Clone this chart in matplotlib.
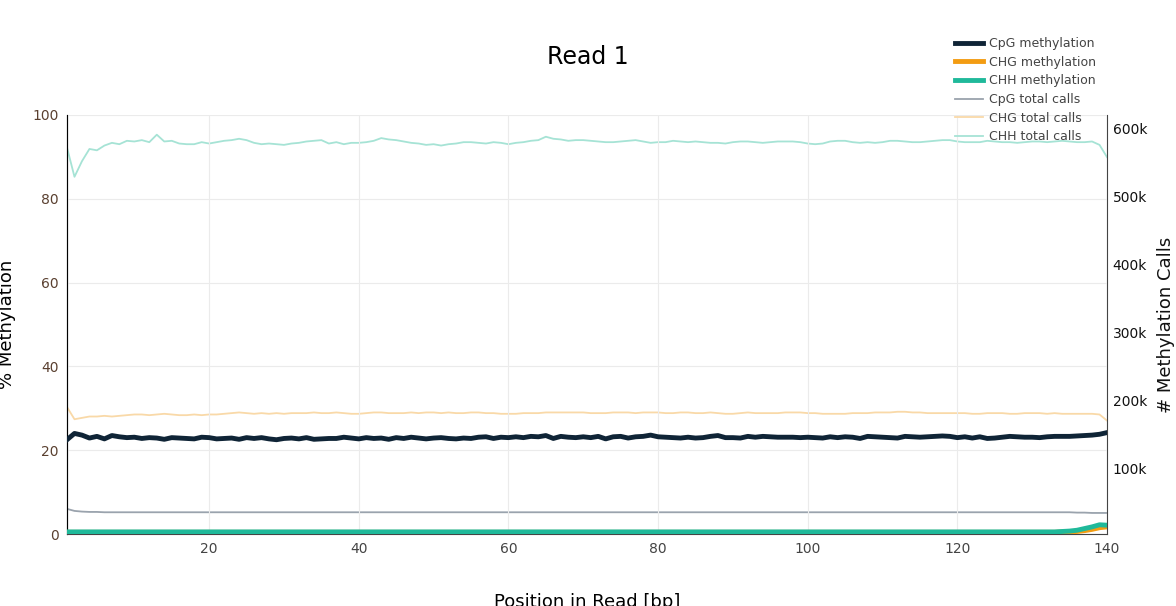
import matplotlib
matplotlib.use("Agg")
import matplotlib.pyplot as plt
import numpy as np

positions = list(range(1, 141))

cpg_meth = [
    22.5, 24.0, 23.6, 22.9, 23.3, 22.7, 23.5, 23.2, 23.0, 23.1,
    22.8, 23.0, 22.9, 22.6, 23.0, 22.9, 22.8, 22.7, 23.1, 23.0,
    22.7, 22.8, 22.9, 22.6, 23.0, 22.8, 23.0, 22.7, 22.5, 22.8,
    22.9, 22.7, 23.0, 22.6, 22.7, 22.8, 22.8, 23.1, 22.9, 22.7,
    23.0, 22.8, 22.9, 22.6, 23.0, 22.8, 23.1, 22.9, 22.7, 22.9,
    23.0, 22.8, 22.7, 22.9, 22.8, 23.1, 23.2, 22.8, 23.1, 23.0,
    23.2, 23.0, 23.3, 23.2, 23.5, 22.8, 23.3, 23.1, 23.0, 23.2,
    23.0, 23.3, 22.7, 23.2, 23.3, 22.9, 23.2, 23.3, 23.6, 23.2,
    23.1, 23.0, 22.9, 23.1, 22.9, 23.0, 23.3, 23.5, 23.0, 23.0,
    22.9, 23.3, 23.1, 23.3, 23.2, 23.1, 23.1, 23.1, 23.0, 23.1,
    23.0, 22.9, 23.2, 23.0, 23.2, 23.1, 22.8, 23.3, 23.2, 23.1,
    23.0, 22.9, 23.3, 23.2, 23.1, 23.2, 23.3, 23.4, 23.3, 23.0,
    23.2, 22.9, 23.2, 22.8, 22.9, 23.1, 23.3, 23.2, 23.1, 23.1,
    23.0, 23.2, 23.3, 23.3, 23.3, 23.4, 23.5, 23.6, 23.8, 24.2,
]

chg_meth = [0.4] * 130 + [0.4, 0.4, 0.4, 0.5, 0.5, 0.6, 0.8, 1.1, 1.5, 1.7]
chh_meth = [0.5] * 130 + [0.5, 0.5, 0.5, 0.6, 0.7, 0.9, 1.3, 1.7, 2.2, 2.1]

cpg_total = [40000, 37000, 36000, 35500, 35500] + [35000] * 130 + [34500, 34500, 34000, 34000, 34000]

chg_total = [
    190000, 172000, 174000, 176000, 176000, 177000, 176000, 177000, 178000, 179000,
    179000, 178000, 179000, 180000, 179000, 178000, 178000, 179000, 178000, 179000,
    179000, 180000, 181000, 182000, 181000, 180000, 181000, 180000, 181000, 180000,
    181000, 181000, 181000, 182000, 181000, 181000, 182000, 181000, 180000, 180000,
    181000, 182000, 182000, 181000, 181000, 181000, 182000, 181000, 182000, 182000,
    181000, 182000, 181000, 181000, 182000, 182000, 181000, 181000, 180000, 180000,
    180000, 181000, 181000, 181000, 182000, 182000, 182000, 182000, 182000, 182000,
    181000, 181000, 181000, 182000, 182000, 182000, 181000, 182000, 182000, 182000,
    181000, 181000, 182000, 182000, 181000, 181000, 182000, 181000, 180000, 180000,
    181000, 182000, 181000, 181000, 181000, 181000, 182000, 182000, 182000, 181000,
    181000, 180000, 180000, 180000, 180000, 181000, 181000, 181000, 182000, 182000,
    182000, 183000, 183000, 182000, 182000, 181000, 181000, 181000, 181000, 181000,
    181000, 180000, 180000, 181000, 181000, 181000, 180000, 180000, 181000, 181000,
    181000, 180000, 181000, 180000, 180000, 180000, 180000, 180000, 179000, 170000,
]

chh_total = [
    572000, 529000, 552000, 570000, 568000, 575000, 579000, 577000, 582000, 581000,
    583000, 580000, 591000, 581000, 582000, 578000, 577000, 577000, 580000, 578000,
    580000, 582000, 583000, 585000, 583000, 579000, 577000, 578000, 577000, 576000,
    578000, 579000, 581000, 582000, 583000, 578000, 580000, 577000, 579000, 579000,
    580000, 582000, 586000, 584000, 583000, 581000, 579000, 578000, 576000, 577000,
    575000, 577000, 578000, 580000, 580000, 579000, 578000, 580000, 579000, 577000,
    579000, 580000, 582000, 583000, 588000, 585000, 584000, 582000, 583000, 583000,
    582000, 581000, 580000, 580000, 581000, 582000, 583000, 581000, 579000, 580000,
    580000, 582000, 581000, 580000, 581000, 580000, 579000, 579000, 578000, 580000,
    581000, 581000, 580000, 579000, 580000, 581000, 581000, 581000, 580000, 578000,
    577000, 578000, 581000, 582000, 582000, 580000, 579000, 580000, 579000, 580000,
    582000, 582000, 581000, 580000, 580000, 581000, 582000, 583000, 583000, 581000,
    580000, 580000, 580000, 582000, 581000, 580000, 580000, 579000, 580000, 581000,
    581000, 580000, 581000, 582000, 581000, 580000, 580000, 581000, 576000, 558000,
]

fig = plt.figure(figsize=(11.76, 6.06), dpi=100)
ax = fig.add_axes([67 / 1176, 1 - 534 / 606, 1040 / 1176, 419 / 606])
ax2 = ax.twinx()

ax2.plot(positions, cpg_total, color="#9aa3ad", lw=1.3, label="CpG total calls")
ax2.plot(positions, chg_total, color="#f9d9a8", lw=1.3, label="CHG total calls")
ax2.plot(positions, chh_total, color="#a6e3d5", lw=1.3, label="CHH total calls")
ax.plot(positions, cpg_meth, color="#0f2436", lw=3.5, label="CpG methylation", zorder=5)
ax.plot(positions, chg_meth, color="#f39c12", lw=3.5, label="CHG methylation", zorder=5)
ax.plot(positions, chh_meth, color="#1fb99a", lw=3.5, label="CHH methylation", zorder=5)
ax.set_zorder(ax2.get_zorder() + 1)
ax.patch.set_visible(False)

ax.set_xlim(1, 140)
ax.set_ylim(0, 100)
ax2.set_ylim(3000, 620000)
ax.set_xticks([20, 40, 60, 80, 100, 120, 140])
ax.set_yticks([0, 20, 40, 60, 80, 100])
ax2.set_yticks([100000, 200000, 300000, 400000, 500000, 600000])
ax2.set_yticklabels(["100k", "200k", "300k", "400k", "500k", "600k"])
ax.grid(color="#ebebeb", lw=0.8)
for a in (ax, ax2):
    a.spines["top"].set_visible(False)
    a.tick_params(length=0, labelsize=10)
ax.spines["right"].set_visible(False)
ax2.spines["left"].set_color("#444")
ax2.spines["right"].set_color("#444")
ax2.spines["bottom"].set_visible(False)
ax.spines["bottom"].set_color("#444")
ax.tick_params(axis="y", labelcolor="#5a4030", pad=6)
ax.tick_params(axis="x", labelcolor="#444", pad=6)
ax2.tick_params(axis="y", labelcolor="#111", pad=4)

ax.set_xlabel("Position in Read [bp]", fontsize=13)
ax.xaxis.set_label_coords(0.5, -(593 - 534) / 419, transform=ax.transAxes)
ax.set_ylabel("% Methylation", fontsize=13)
ax.yaxis.set_label_coords(-(67 - 16) / 1040, 0.5, transform=ax.transAxes)
ax2.set_ylabel("# Methylation Calls", fontsize=13, color="#111")
ax2.yaxis.set_label_coords(1 + (1157 - 1107) / 1040, 0.5, transform=ax.transAxes)
fig.text(588 / 1176, 1 - 57 / 606, "Read 1", fontsize=17, ha="center", va="center")

h1, l1 = ax.get_legend_handles_labels()
h2, l2 = ax2.get_legend_handles_labels()
fig.legend(h1 + h2, l1 + l2, loc="upper left", bbox_to_anchor=(955 / 1176, 1 - 37 / 606),
           frameon=False, fontsize=9, handlelength=2.2, handletextpad=0.5, labelspacing=0.45,
           borderaxespad=0, borderpad=0, labelcolor="#444")
fig.savefig("out.png", dpi=100)
